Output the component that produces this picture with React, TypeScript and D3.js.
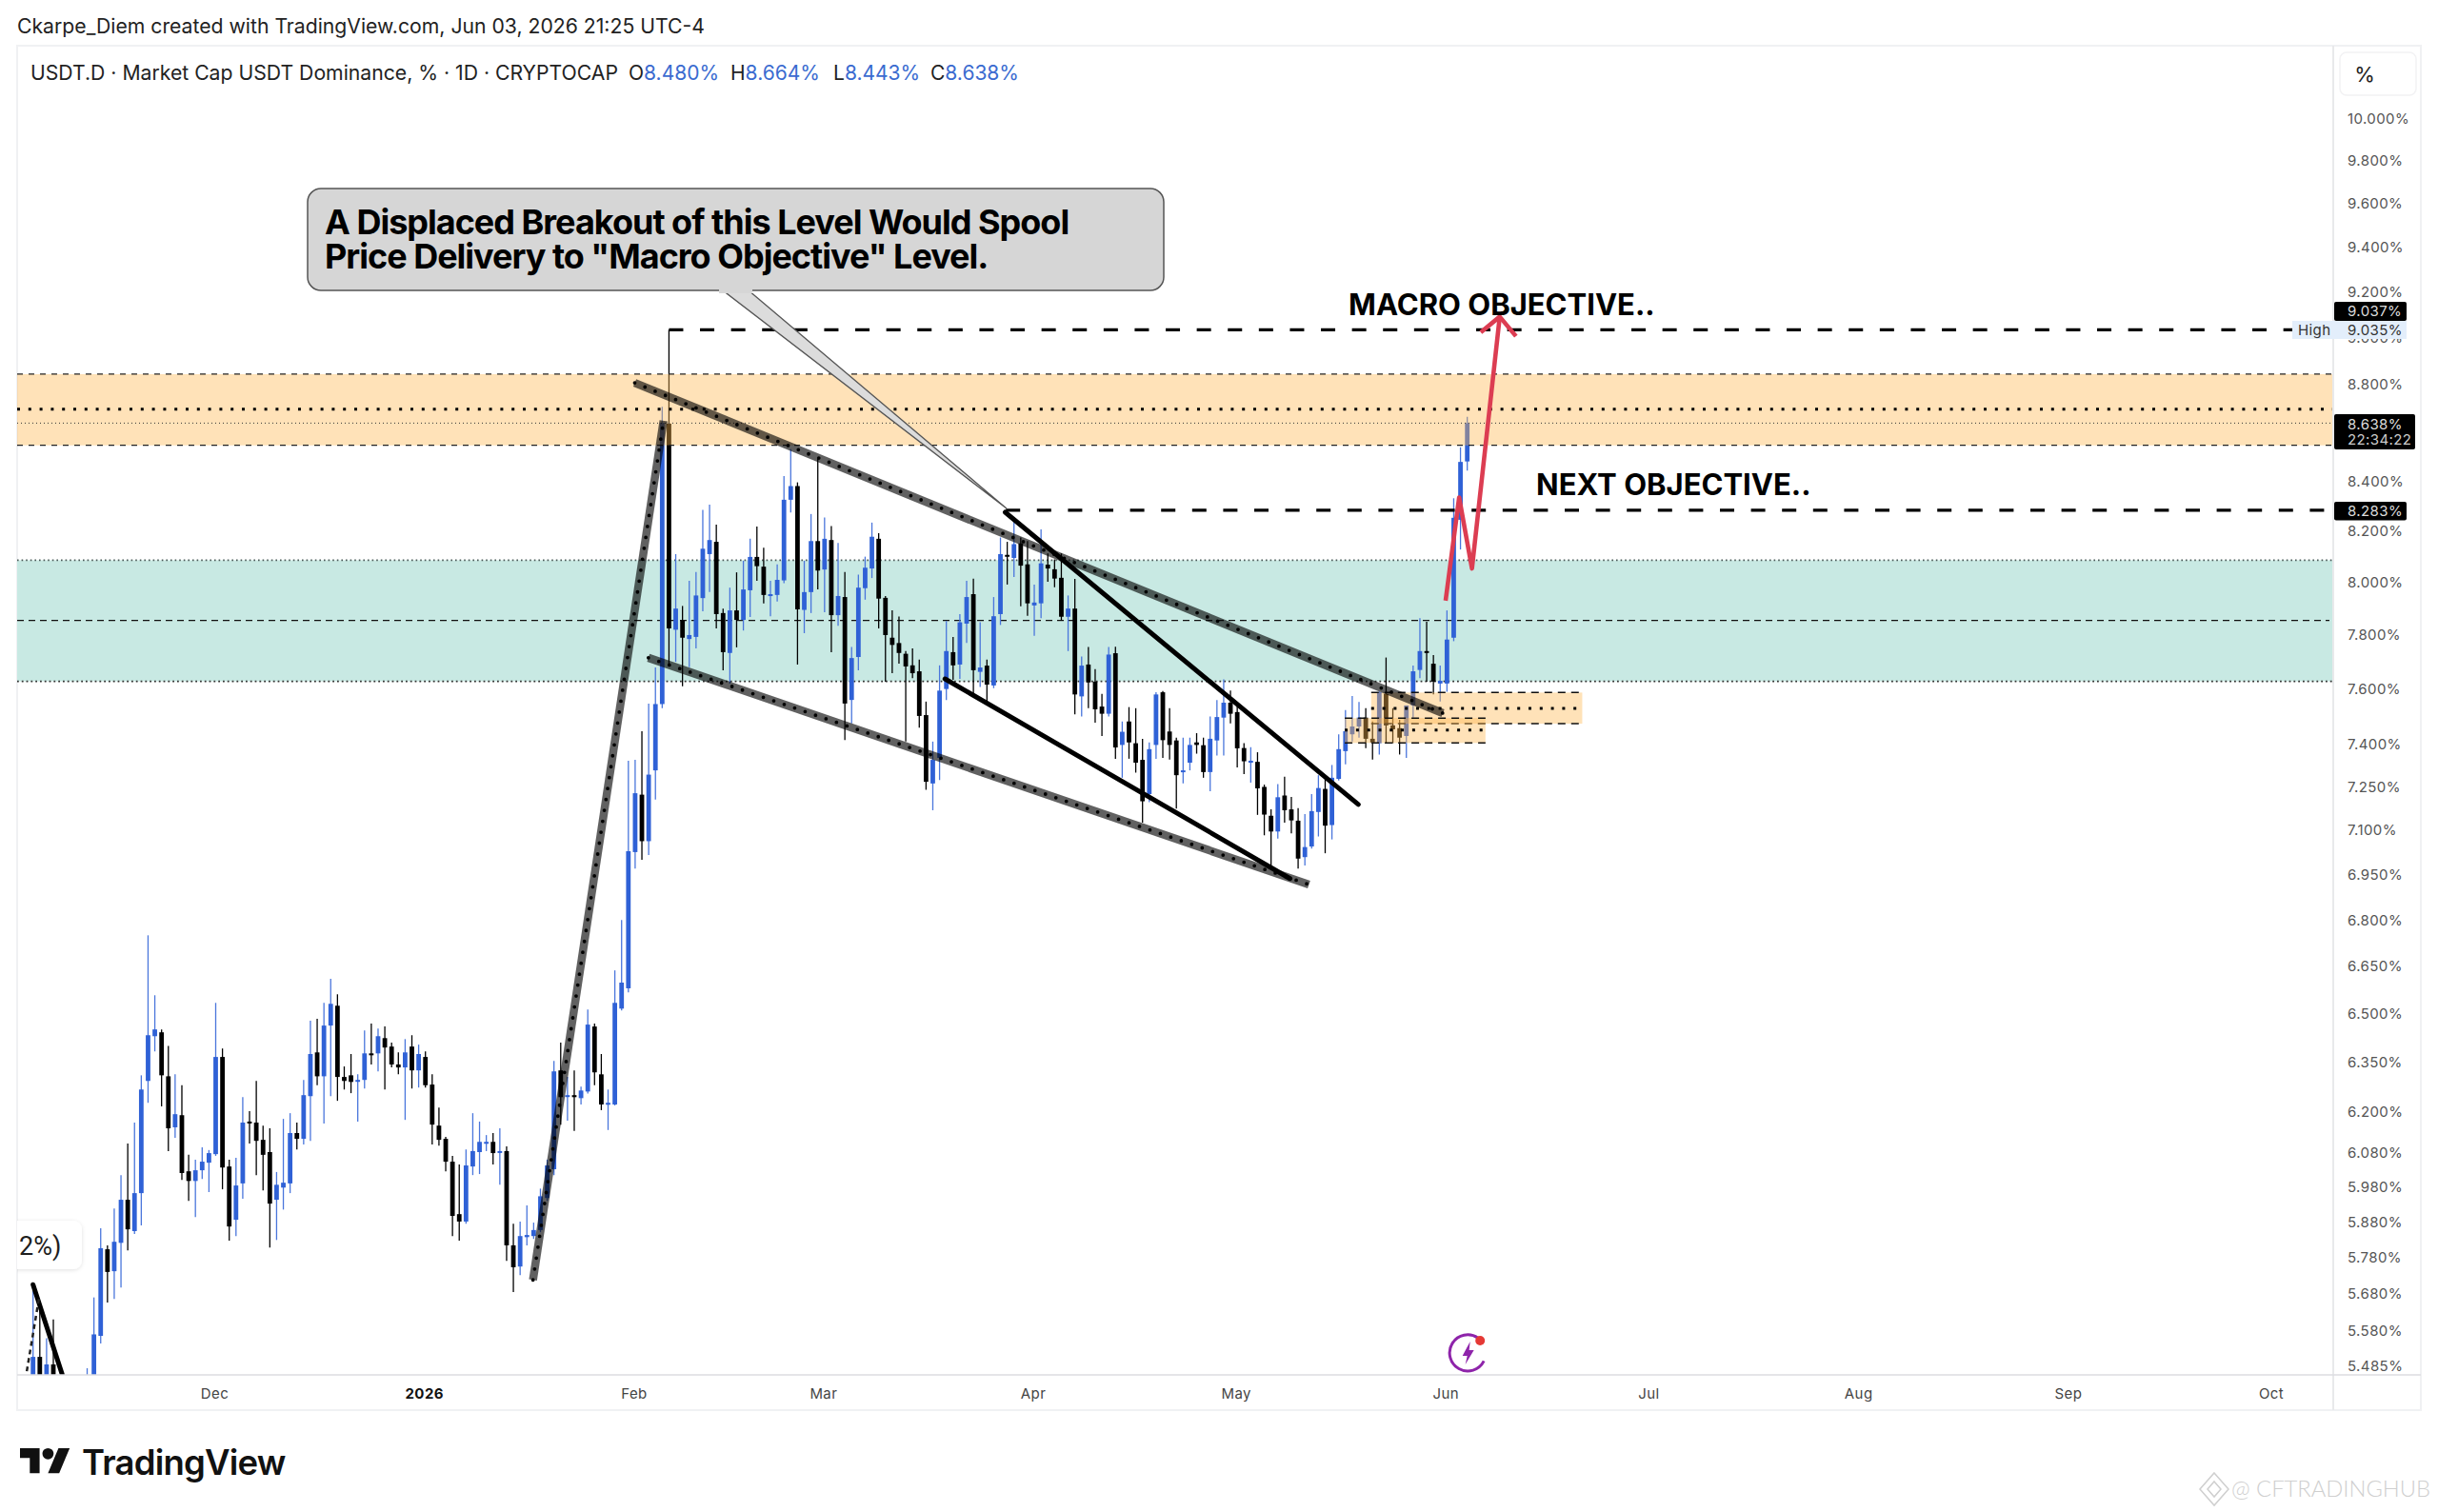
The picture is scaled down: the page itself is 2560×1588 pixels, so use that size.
import React from 'react';
import * as d3 from 'd3';

const WIDTH = 2560;
const HEIGHT = 1588;
const FONT = 'Inter, "Noto Sans", sans-serif';

// daily candles, first one is Nov 4 2025, last is Jun 4 2026
const FIRST_DAY = Date.UTC(2025, 10, 4);
const DAY = 864e5;

const opens = [
  5.37, 5.51, 5.38, 5.49, 5.36, 5.3, 5.33, 5.28, 5.36, 5.44,
  5.566, 5.803, 5.742, 5.821, 5.943, 5.854, 5.962, 6.293, 6.43, 6.442,
  6.307, 6.154, 6.19, 6.025, 5.997, 6.028, 6.05, 6.075, 6.366, 6.039,
  5.886, 5.99, 6.171, 6.168, 6.117, 6.081, 5.943, 5.978, 5.99, 6.137,
  6.12, 6.247, 6.38, 6.307, 6.463, 6.525, 6.305, 6.31, 6.293, 6.296,
  6.377, 6.377, 6.424, 6.398, 6.343, 6.334, 6.398, 6.325, 6.366, 6.282,
  6.159, 6.12, 6.053, 5.902, 5.881, 6.039, 6.081, 6.109, 6.111, 6.081,
  6.084, 5.814, 5.755, 5.837, 5.84, 5.857, 5.948, 6.031, 6.325, 6.247,
  6.25, 6.241, 6.261, 6.46, 6.313, 6.222, 6.222, 6.516, 6.58, 7.026,
  7.223, 7.063, 7.308, 7.545, 8.636, 7.82, 7.857, 7.785, 7.793, 7.94,
  8.11, 8.158, 7.883, 7.733, 7.893, 7.857, 7.97, 8.099, 8.061, 7.952,
  7.952, 8.008, 8.325, 8.38, 7.895, 7.963, 8.161, 8.05, 8.165, 7.875,
  7.944, 7.56, 7.718, 7.978, 8.054, 8.17, 7.941, 7.79, 7.77, 7.73,
  7.687, 7.665, 7.505, 7.262, 7.352, 7.6, 7.736, 7.69, 7.843, 7.955,
  7.663, 7.686, 7.613, 7.879, 8.107, 8.095, 8.152, 8.07, 7.912, 7.92,
  8.069, 8.051, 8.018, 7.869, 7.9, 7.573, 7.69, 7.627, 7.536, 7.51,
  7.732, 7.398, 7.482, 7.404, 7.345, 7.225, 7.398, 7.588, 7.446, 7.414,
  7.305, 7.335, 7.407, 7.397, 7.302, 7.414, 7.496, 7.55, 7.516, 7.387,
  7.335, 7.338, 7.25, 7.15, 7.096, 7.22, 7.172, 7.133, 7.009, 7.045,
  7.163, 7.243, 7.118, 7.278, 7.376, 7.436, 7.464, 7.496, 7.42, 7.404,
  7.582, 7.468, 7.458, 7.43, 7.54, 7.67, 7.74, 7.693, 7.62, 7.62,
  7.79, 8.245, 8.48,
];
const highs = [
  5.7, 5.66, 5.56, 5.61, 5.42, 5.4, 5.41, 5.43, 5.48, 5.67,
  5.862, 5.814, 5.918, 6.014, 6.106, 6.168, 6.31, 6.75, 6.558, 6.451,
  6.4, 6.313, 6.28, 6.073, 6.059, 6.095, 6.087, 6.534, 6.392, 6.059,
  6.064, 6.244, 6.202, 6.293, 6.159, 6.151, 6.023, 6.179, 6.196, 6.168,
  6.296, 6.478, 6.484, 6.534, 6.61, 6.561, 6.337, 6.375, 6.313, 6.448,
  6.469, 6.454, 6.46, 6.41, 6.38, 6.421, 6.433, 6.404, 6.383, 6.313,
  6.213, 6.126, 6.07, 6.045, 6.089, 6.196, 6.171, 6.131, 6.137, 6.151,
  6.098, 5.875, 5.881, 5.927, 5.878, 5.975, 6.059, 6.354, 6.41, 6.305,
  6.325, 6.276, 6.513, 6.469, 6.375, 6.267, 6.637, 6.8, 7.342, 7.345,
  7.447, 7.547, 7.679, 8.706, 9.035, 8.11, 7.91, 8.006, 8.04, 8.285,
  8.305, 8.226, 7.9, 7.98, 8.039, 8.084, 8.17, 8.218, 8.135, 8.006,
  8.07, 8.42, 8.53, 8.395, 8.084, 8.268, 8.49, 8.254, 8.22, 8.154,
  8.04, 7.755, 8.03, 8.1, 8.234, 8.192, 7.948, 7.893, 7.87, 7.74,
  7.75, 7.708, 7.554, 7.41, 7.687, 7.853, 7.793, 7.879, 8.006, 8.015,
  7.848, 7.708, 7.944, 8.175, 8.158, 8.238, 8.175, 8.161, 7.992, 8.207,
  8.113, 8.089, 8.113, 7.95, 8.014, 7.72, 7.755, 7.673, 7.582, 7.755,
  7.756, 7.482, 7.534, 7.53, 7.42, 7.407, 7.588, 7.593, 7.53, 7.424,
  7.424, 7.424, 7.44, 7.424, 7.5, 7.56, 7.635, 7.594, 7.55, 7.404,
  7.39, 7.372, 7.258, 7.172, 7.26, 7.286, 7.215, 7.176, 7.156, 7.225,
  7.291, 7.282, 7.327, 7.436, 7.523, 7.574, 7.553, 7.53, 7.482, 7.591,
  7.716, 7.53, 7.488, 7.54, 7.686, 7.864, 7.85, 7.725, 7.686, 7.893,
  8.331, 8.538, 8.664,
];
const lows = [
  5.33, 5.3, 5.32, 5.3, 5.25, 5.26, 5.22, 5.25, 5.34, 5.41,
  5.546, 5.656, 5.666, 5.697, 5.8, 5.846, 5.87, 6.227, 6.383, 6.216,
  6.084, 6.123, 6.0, 5.94, 5.894, 6.003, 5.965, 6.07, 5.973, 5.827,
  5.84, 5.946, 6.106, 6.014, 5.97, 5.808, 5.829, 5.915, 5.962, 6.089,
  6.103, 6.114, 6.28, 6.165, 6.247, 6.233, 6.267, 6.256, 6.171, 6.27,
  6.343, 6.322, 6.267, 6.334, 6.313, 6.176, 6.27, 6.273, 6.273, 6.103,
  6.1, 6.025, 5.84, 5.827, 5.875, 6.014, 6.017, 6.084, 6.045, 5.986,
  5.771, 5.685, 5.731, 5.814, 5.832, 5.851, 5.94, 6.014, 6.162, 6.174,
  6.143, 6.222, 6.255, 6.28, 6.205, 6.146, 6.219, 6.51, 6.567, 6.97,
  7.0, 7.016, 7.206, 7.53, 7.686, 7.7, 7.61, 7.68, 7.75, 7.89,
  7.963, 7.825, 7.669, 7.62, 7.754, 7.817, 7.868, 8.006, 7.92, 7.871,
  7.927, 7.997, 8.274, 7.69, 7.807, 7.883, 7.973, 7.886, 7.736, 7.835,
  7.415, 7.475, 7.669, 7.934, 8.017, 7.825, 7.627, 7.658, 7.693, 7.41,
  7.64, 7.46, 7.24, 7.169, 7.274, 7.56, 7.634, 7.637, 7.77, 7.58,
  7.607, 7.554, 7.603, 7.838, 7.992, 8.021, 7.909, 7.873, 7.797, 7.864,
  8.003, 7.982, 7.855, 7.74, 7.508, 7.5, 7.53, 7.478, 7.43, 7.5,
  7.349, 7.282, 7.349, 7.3, 7.126, 7.197, 7.349, 7.352, 7.346, 7.175,
  7.262, 7.308, 7.367, 7.282, 7.235, 7.36, 7.36, 7.475, 7.318, 7.295,
  7.265, 7.153, 7.083, 6.981, 7.072, 7.126, 7.09, 6.97, 6.981, 7.038,
  7.079, 7.022, 7.069, 7.272, 7.329, 7.41, 7.424, 7.387, 7.346, 7.364,
  7.404, 7.404, 7.364, 7.352, 7.496, 7.64, 7.627, 7.58, 7.554, 7.59,
  7.777, 8.128, 8.443,
];
const closes = [
  5.51, 5.35, 5.49, 5.36, 5.3, 5.33, 5.28, 5.36, 5.42, 5.57,
  5.806, 5.74, 5.824, 5.943, 5.859, 5.962, 6.267, 6.433, 6.451, 6.31,
  6.151, 6.193, 6.02, 5.997, 6.028, 6.053, 6.078, 6.366, 6.036, 5.867,
  5.984, 6.168, 6.168, 6.114, 6.073, 5.932, 5.986, 5.992, 6.137, 6.12,
  6.25, 6.375, 6.307, 6.463, 6.531, 6.305, 6.293, 6.29, 6.296, 6.377,
  6.375, 6.43, 6.395, 6.343, 6.334, 6.38, 6.325, 6.375, 6.28, 6.162,
  6.117, 6.053, 5.897, 5.881, 6.042, 6.084, 6.111, 6.111, 6.078, 6.084,
  5.814, 5.753, 5.84, 5.843, 5.857, 5.953, 6.042, 6.322, 6.244, 6.25,
  6.244, 6.264, 6.466, 6.319, 6.222, 6.227, 6.534, 6.598, 7.029, 7.228,
  7.063, 7.293, 7.545, 8.64, 7.825, 7.9, 7.79, 7.8, 7.95, 8.131,
  8.165, 7.879, 7.736, 7.893, 7.857, 7.973, 8.099, 8.063, 7.952, 7.955,
  8.01, 8.325, 8.38, 7.897, 7.963, 8.161, 8.046, 8.17, 7.875, 7.948,
  7.547, 7.714, 7.98, 8.057, 8.178, 7.938, 7.8, 7.763, 7.733, 7.683,
  7.658, 7.502, 7.268, 7.345, 7.594, 7.74, 7.687, 7.848, 7.944, 7.669,
  7.679, 7.616, 7.871, 8.11, 8.1, 8.149, 8.065, 7.92, 7.923, 8.074,
  8.054, 8.015, 7.869, 7.9, 7.58, 7.686, 7.624, 7.526, 7.51, 7.727,
  7.389, 7.445, 7.407, 7.335, 7.2, 7.383, 7.58, 7.415, 7.398, 7.291,
  7.308, 7.398, 7.398, 7.302, 7.42, 7.498, 7.55, 7.51, 7.386, 7.34,
  7.342, 7.245, 7.154, 7.096, 7.214, 7.169, 7.134, 7.004, 7.043, 7.166,
  7.246, 7.116, 7.282, 7.383, 7.447, 7.464, 7.496, 7.42, 7.407, 7.588,
  7.468, 7.454, 7.424, 7.54, 7.665, 7.74, 7.736, 7.627, 7.63, 7.783,
  8.253, 8.478, 8.638,
];

const priceTicks = [
  10, 9.8, 9.6, 9.4, 9.2, 9, 8.8, 8.4, 8.2, 8, 7.8, 7.6, 7.4, 7.25, 7.1, 6.95,
  6.8, 6.65, 6.5, 6.35, 6.2, 6.08, 5.98, 5.88, 5.78, 5.68, 5.58, 5.485,
];
const timeTicks = [
  { label: 'Dec', date: Date.UTC(2025, 11, 1) },
  { label: '2026', date: Date.UTC(2026, 0, 1), bold: true },
  { label: 'Feb', date: Date.UTC(2026, 1, 1) },
  { label: 'Mar', date: Date.UTC(2026, 2, 1) },
  { label: 'Apr', date: Date.UTC(2026, 3, 1) },
  { label: 'May', date: Date.UTC(2026, 4, 1) },
  { label: 'Jun', date: Date.UTC(2026, 5, 1) },
  { label: 'Jul', date: Date.UTC(2026, 6, 1) },
  { label: 'Aug', date: Date.UTC(2026, 7, 1) },
  { label: 'Sep', date: Date.UTC(2026, 8, 1) },
  { label: 'Oct', date: Date.UTC(2026, 9, 1) },
];

// drawn levels and lines, as [bars since the first candle, price]
const macroLevel = 9.035;
const nextLevel = 8.283;
const lastPrice = 8.638;
const upperBand = { top: 8.844, mid: 8.696, bottom: 8.546 };
const greenBand = { top: 8.086, mid: 7.855, bottom: 7.628 };
const smallBands = [
  { from: 197.8, to: 229, top: 7.587, mid: 7.529, bottom: 7.474 },
  { from: 193.9, to: 214.7, top: 7.494, mid: 7.451, bottom: 7.405 },
];
const chainLines = [
  [[88.94, 8.807], [208.4, 7.512]],
  [[90.96, 7.715], [188.6, 6.917]],
  [[73.9, 5.718], [93.2, 8.648]],
];
const solidLines = [
  [[143.7, 8.275], [195.9, 7.189]],
  [[134.8, 7.637], [185.8, 6.937]],
  [[0, 5.705], [4.3, 5.464]],
];
const oldDashedLine = [[0.86, 5.666], [-1, 5.464]];
const redPath = [[208.8, 7.93], [210.8, 8.334], [212.7, 8.054], [216.8, 9.092]];
const redHead = [[214, 9.024], [216.8, 9.092], [219.2, 9.007]];
const calloutTip = [143.9, 8.29];

const candles = opens.map((open, i) => ({
  i, open, high: highs[i], low: lows[i], close: closes[i],
}));

const PANE = { left: 18, right: 2450, top: 48, bottom: 1444 };

const x = d3.scaleUtc()
  .domain([new Date(FIRST_DAY), new Date(Date.UTC(2026, 9, 1))])
  .range([34.7, 2386]);
const y = d3.scaleLog().domain([10, 5.485]).range([125, 1435]);
const xBar = (bar: number) => x(new Date(FIRST_DAY + bar * DAY));

const line = d3.line<number[]>().x(d => xBar(d[0])).y(d => y(d[1]));

const BLUE = '#2f61d6';

const HLine = ({ price, from = PANE.left, to = PANE.right, ...rest }: any) => (
  <line x1={from} x2={to} y1={y(price)} y2={y(price)} {...rest} />
);

const App = () => {
  const bodyW = 4.8;
  return (
    <svg width={WIDTH} height={HEIGHT} style={{ position: 'absolute', left: 0, top: 0, display: 'block' }} fontFamily={FONT}>
      <defs>
        <clipPath id="pane">
          <rect x={PANE.left} y={PANE.top} width={PANE.right - PANE.left} height={PANE.bottom - PANE.top} />
        </clipPath>
        <filter id="soft" x="-20%" y="-20%" width="140%" height="140%">
          <feDropShadow dx="0" dy="1" stdDeviation="2" floodColor="#000" floodOpacity="0.12" />
        </filter>
      </defs>
      <rect width={WIDTH} height={HEIGHT} fill="#fff" />

      <text x={18} y={35} fontSize={21.2} fill="#222">Ckarpe_Diem created with TradingView.com, Jun 03, 2026 21:25 UTC-4</text>

      {/* frame */}
      <rect x={PANE.left} y={PANE.top} width={2542 - PANE.left} height={1481 - PANE.top} fill="none" stroke="#f0f1f3" strokeWidth={2} />

      <g clipPath="url(#pane)">
        {/* green zone sits behind the candles */}
        <rect x={PANE.left} width={PANE.right - PANE.left} y={y(greenBand.top)} height={y(greenBand.bottom) - y(greenBand.top)} fill="#c8e9e3" />
        <HLine price={greenBand.top} stroke="#4a5a58" strokeWidth={1.6} strokeDasharray="1.6 3" />
        <HLine price={greenBand.bottom} stroke="#333" strokeWidth={1.8} strokeDasharray="1.8 3" />
        <HLine price={greenBand.mid} to={2446} stroke="#111" strokeWidth={1.4} strokeDasharray="7 5" />

        {candles.map(d => {
          const up = d.close >= d.open;
          const color = up ? BLUE : '#000';
          const cx = xBar(d.i);
          const top = y(Math.max(d.open, d.close));
          const bottom = y(Math.min(d.open, d.close));
          return (
            <g key={d.i}>
              <line x1={cx} x2={cx} y1={y(d.high)} y2={y(d.low)} stroke={up ? '#4a76dc' : '#000'} strokeWidth={1.3} />
              <rect x={cx - bodyW / 2} width={bodyW} y={top} height={Math.max(bottom - top, 2)} fill={color} />
            </g>
          );
        })}

        {/* orange zones go over the candles */}
        <rect x={PANE.left} width={PANE.right - PANE.left} y={y(upperBand.top)} height={y(upperBand.bottom) - y(upperBand.top)} fill="#ffb74d" fillOpacity={0.4} />
        <HLine price={upperBand.top} stroke="#222" strokeWidth={1.3} strokeDasharray="6 6" />
        <HLine price={upperBand.bottom} stroke="#222" strokeWidth={1.3} strokeDasharray="6 6" />
        <HLine price={upperBand.mid} stroke="#000" strokeWidth={3} strokeDasharray="3 8.8" />
        <HLine price={lastPrice} stroke="#333" strokeWidth={1} strokeDasharray="1 3" />
        {smallBands.map((b, i) => (
          <g key={i}>
            <rect x={xBar(b.from)} width={xBar(b.to) - xBar(b.from)} y={y(b.top)} height={y(b.bottom) - y(b.top)} fill="#ffb74d" fillOpacity={0.4} />
            <HLine price={b.top} from={xBar(b.from)} to={xBar(b.to)} stroke="#111" strokeWidth={1.5} strokeDasharray="8 6" />
            <HLine price={b.bottom} from={xBar(b.from)} to={xBar(b.to)} stroke="#111" strokeWidth={1.5} strokeDasharray="8 6" />
            <HLine price={b.mid} from={xBar(b.from)} to={xBar(b.to)} stroke="#000" strokeWidth={3} strokeDasharray="3 8.8" />
          </g>
        ))}

        {/* horizontal objectives */}
        <HLine price={macroLevel} from={xBar(94)} to={2407} stroke="#000" strokeWidth={3.4} strokeDasharray="15 17.6" />
        <HLine price={nextLevel} from={xBar(143.8)} stroke="#000" strokeWidth={3.4} strokeDasharray="15 17.6" />

        {/* callout */}
        <path
          d={`M759,305 L${xBar(calloutTip[0])},${y(calloutTip[1])} L786,305`}
          fill="#dcdcdc" stroke="#555" strokeWidth={1.3}
        />
        <rect x={323} y={198} width={899} height={107} rx={14} fill="#d6d6d6" stroke="#555" strokeWidth={1.5} />
        <rect x={755} y={300} width={35} height={8} fill="#d6d6d6" />
        <g fontSize={36} fontWeight={700} fill="#000">
          <text x={341} y={246} letterSpacing={-1}>A Displaced Breakout of this Level Would Spool</text>
          <text x={341} y={282} letterSpacing={-1}>Price Delivery to "Macro Objective" Level.</text>
        </g>

        {/* channel lines */}
        {chainLines.map((pts, i) => (
          <g key={i} fill="none">
            <path d={line(pts as any) as string} stroke="#000" strokeOpacity={0.62} strokeWidth={8.5} />
            <path d={line(pts as any) as string} stroke="#000" strokeWidth={3.8} strokeLinecap="round" strokeDasharray="0 11.6" />
          </g>
        ))}
        {solidLines.map((pts, i) => (
          <path key={i} d={line(pts as any) as string} fill="none" stroke="#000" strokeWidth={5} strokeLinecap="round" />
        ))}
        <path d={line(oldDashedLine as any) as string} fill="none" stroke="#222" strokeWidth={2.5} strokeDasharray="5 4" />

        <path d={line(redPath as any) as string} fill="none" stroke="#dc3d52" strokeWidth={4.6} strokeLinejoin="round" />
        <path d={line(redHead as any) as string} fill="none" stroke="#dc3d52" strokeWidth={4.6} strokeLinejoin="round" />

        <text x={1416} y={331} fontSize={31} fontWeight={700} fill="#000">MACRO OBJECTIVE..</text>
        <text x={1613} y={520} fontSize={31} fontWeight={700} fill="#000">NEXT OBJECTIVE..</text>

        {/* leftover label cut off by the pane edge */}
        <rect x={-20} y={1282} width={106} height={51} rx={9} fill="#fff" filter="url(#soft)" />
        <text x={20} y={1318} fontSize={27} fill="#1e1e1e" fontFamily="Roboto, sans-serif">2%)</text>

        {/* lightning marker */}
        <g transform={`translate(${x(new Date(Date.UTC(2026, 5, 4))) + 1},1421)`}>
          <path d="M 8,-17 A 19,19 0 1 0 17.5,6" fill="none" stroke="#8e24aa" strokeWidth={3} transform="rotate(8)" />
          <path d="M 2,-12 L -6,3 L -1,3 L -3,12 L 6,-3 L 1,-3 Z" fill="#8e24aa" />
          <circle cx={12.5} cy={-13} r={5} fill="#e53935" />
        </g>
      </g>

      {/* legend */}
      <text x={32} y={84} fontSize={21.2} fill="#222">USDT.D · Market Cap USDT Dominance, % · 1D · CRYPTOCAP</text>
      <g fontSize={21}>
        <text x={660} y={84} fill="#222">O<tspan fill="#3a6bd0">8.480%</tspan></text>
        <text x={767} y={84} fill="#222">H<tspan fill="#3a6bd0">8.664%</tspan></text>
        <text x={875} y={84} fill="#222">L<tspan fill="#3a6bd0">8.443%</tspan></text>
        <text x={977} y={84} fill="#222">C<tspan fill="#3a6bd0">8.638%</tspan></text>
      </g>

      {/* price axis */}
      <line x1={PANE.right} x2={PANE.right} y1={48} y2={1481} stroke="#e8e9eb" strokeWidth={2} />
      <line x1={PANE.left} x2={2542} y1={PANE.bottom} y2={PANE.bottom} stroke="#dcdde0" strokeWidth={1.5} />
      <rect x={2457} y={55} width={80} height={45} rx={7} fill="#fff" stroke="#f2f2f4" strokeWidth={1.5} />
      <text x={2483} y={86} fontSize={22} textAnchor="middle" fill="#222">%</text>
      {priceTicks.map(t => (
        <text key={t} x={2465} y={y(t)} dy="0.36em" fontSize={15} fill="#555" letterSpacing={0.4}>{t.toFixed(3)}%</text>
      ))}

      <rect x={2451} y={317} width={76} height={20} rx={2} fill="#000" />
      <text x={2465} y={327} dy="0.36em" fontSize={15} fill="#ddd" letterSpacing={0.4}>9.037%</text>
      <rect x={2407} y={337} width={120} height={19} fill="#e3eefb" />
      <text x={2413} y={346.5} dy="0.36em" fontSize={15} fill="#333" letterSpacing={0.4}>High</text>
      <text x={2465} y={346.5} dy="0.36em" fontSize={15} fill="#333" letterSpacing={0.4}>{macroLevel.toFixed(3)}%</text>
      <rect x={2451} y={435} width={85} height={37} rx={2} fill="#000" />
      <text x={2465} y={446} dy="0.36em" fontSize={15} fill="#ddd" letterSpacing={0.4}>{lastPrice.toFixed(3)}%</text>
      <text x={2465} y={462} dy="0.36em" fontSize={15} fill="#ccc" letterSpacing={0.4}>22:34:22</text>
      <rect x={2451} y={527} width={76} height={19.5} rx={2} fill="#000" />
      <text x={2465} y={536.5} dy="0.36em" fontSize={15} fill="#ddd" letterSpacing={0.4}>{nextLevel.toFixed(3)}%</text>

      {/* time axis */}
      {timeTicks.map(t => (
        <text
          key={t.label} x={x(new Date(t.date)) - 1} y={1464} dy="0.36em" textAnchor="middle" fontSize={15}
          fontWeight={t.bold ? 700 : 400} fill={t.bold ? '#111' : '#444'} letterSpacing={0.4}
        >
          {t.label}
        </text>
      ))}

      {/* TradingView logo */}
      <g transform="translate(21,1515) scale(1.47)" fill="#111">
        <path d="M14 22H7V11H0V4h14v18zM28 22h-8l7.5-18h8L28 22z" />
        <circle cx={20} cy={8} r={4} />
      </g>
      <text x={86} y={1549} fontSize={36.5} fontWeight={600} fill="#111" letterSpacing={-0.8}>TradingView</text>

      {/* watermark */}
      <g fill="none" stroke="#cfcfcf" strokeWidth={1.5} transform="translate(2325,1564)">
        <path d="M0,-17 L15,0 L0,17 L-15,0 Z" />
        <path d="M0,-8 L7,0 L0,8 L-7,0 Z" />
      </g>
      <text x={2343} y={1572} fontSize={23} fill="#cfcfcf" fontWeight={300} fontFamily="Lato, sans-serif" textLength={209} lengthAdjust="spacingAndGlyphs">@ CFTRADINGHUB</text>
    </svg>
  );
};

export default App;
